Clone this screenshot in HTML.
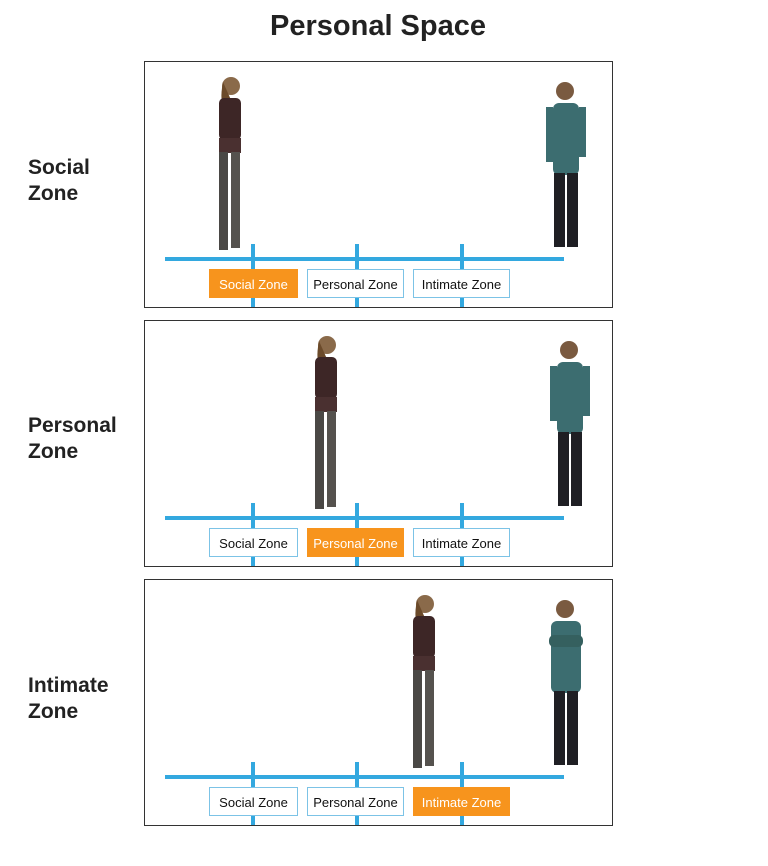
<!DOCTYPE html><html><head><style>
body{margin:0;width:768px;height:866px;background:#fff;font-family:"Liberation Sans",sans-serif;position:relative;overflow:hidden}
.t{position:absolute;left:0;width:756px;top:10px;text-align:center;font-size:29px;font-weight:bold;color:#222}
.lab{position:absolute;left:28px;font-size:21px;font-weight:bold;color:#222;line-height:26px}
.p{position:absolute;left:144px;width:467px;height:245px;border:1px solid #333;box-sizing:content-box}
.ln{position:absolute;left:20px;width:399px;top:195px;height:4px;background:#33a8df}
.tk{position:absolute;width:4px;top:182px;bottom:0;background:#33a8df}
.b{position:absolute;top:207px;height:29px;border:1px solid #7cc3e6;background:#fff;font-size:13px;color:#111;text-align:center;line-height:29px;box-sizing:border-box}
.o{background:#f7941d;border-color:#f7941d;color:#fff}
svg{position:absolute;top:0;left:0}
</style></head><body>
<div class="t">Personal Space</div>
<div class="lab" style="top:155px">Social<br>Zone</div>
<div class="lab" style="top:413px">Personal<br>Zone</div>
<div class="lab" style="top:673px">Intimate<br>Zone</div>

<div class="p" style="top:61px">
<svg width="467" height="245">
<g transform="translate(86,12)"><circle cx="0" cy="12" r="9" fill="#8a6a4a"/><path d="M-8 8 q-4 20 2 28 l6 -10z" fill="#6b4a2a"/><rect x="-12" y="24" width="22" height="42" rx="5" fill="#3d2626"/><rect x="-12" y="64" width="22" height="15" fill="#4a3030"/><rect x="-12" y="78" width="9" height="98" fill="#4a4845"/><rect x="0" y="78" width="9" height="96" fill="#55524e"/></g>
<g transform="translate(420,17)"><circle cx="0" cy="12" r="9" fill="#7a5a40"/><rect x="-12" y="24" width="26" height="72" rx="6" fill="#3c6d70"/><rect x="-19" y="28" width="7" height="55" fill="#3c6d70"/><rect x="14" y="28" width="7" height="50" fill="#3c6d70"/><rect x="-11" y="94" width="11" height="74" fill="#1f1f24"/><rect x="2" y="94" width="11" height="74" fill="#1f1f24"/></g>
</svg>
<div class="ln"></div><div class="tk" style="left:106px"></div><div class="tk" style="left:210px"></div><div class="tk" style="left:315px"></div>
<div class="b o" style="left:64px;width:89px">Social Zone</div><div class="b" style="left:162px;width:97px">Personal Zone</div><div class="b" style="left:268px;width:97px">Intimate Zone</div>
</div>

<div class="p" style="top:320px">
<svg width="467" height="245">
<g transform="translate(182,12)"><circle cx="0" cy="12" r="9" fill="#8a6a4a"/><path d="M-8 8 q-4 20 2 28 l6 -10z" fill="#6b4a2a"/><rect x="-12" y="24" width="22" height="42" rx="5" fill="#3d2626"/><rect x="-12" y="64" width="22" height="15" fill="#4a3030"/><rect x="-12" y="78" width="9" height="98" fill="#4a4845"/><rect x="0" y="78" width="9" height="96" fill="#55524e"/></g>
<g transform="translate(424,17)"><circle cx="0" cy="12" r="9" fill="#7a5a40"/><rect x="-12" y="24" width="26" height="72" rx="6" fill="#3c6d70"/><rect x="-19" y="28" width="7" height="55" fill="#3c6d70"/><rect x="14" y="28" width="7" height="50" fill="#3c6d70"/><rect x="-11" y="94" width="11" height="74" fill="#1f1f24"/><rect x="2" y="94" width="11" height="74" fill="#1f1f24"/></g>
</svg>
<div class="ln"></div><div class="tk" style="left:106px"></div><div class="tk" style="left:210px"></div><div class="tk" style="left:315px"></div>
<div class="b" style="left:64px;width:89px">Social Zone</div><div class="b o" style="left:162px;width:97px">Personal Zone</div><div class="b" style="left:268px;width:97px">Intimate Zone</div>
</div>

<div class="p" style="top:579px">
<svg width="467" height="245">
<g transform="translate(280,12)"><circle cx="0" cy="12" r="9" fill="#8a6a4a"/><path d="M-8 8 q-4 20 2 28 l6 -10z" fill="#6b4a2a"/><rect x="-12" y="24" width="22" height="42" rx="5" fill="#3d2626"/><rect x="-12" y="64" width="22" height="15" fill="#4a3030"/><rect x="-12" y="78" width="9" height="98" fill="#4a4845"/><rect x="0" y="78" width="9" height="96" fill="#55524e"/></g>
<g transform="translate(420,17)"><circle cx="0" cy="12" r="9" fill="#7a5a40"/><rect x="-14" y="24" width="30" height="72" rx="6" fill="#3c6d70"/><rect x="-16" y="38" width="34" height="12" rx="5" fill="#35605f"/><rect x="-11" y="94" width="11" height="74" fill="#1f1f24"/><rect x="2" y="94" width="11" height="74" fill="#1f1f24"/></g>
</svg>
<div class="ln"></div><div class="tk" style="left:106px"></div><div class="tk" style="left:210px"></div><div class="tk" style="left:315px"></div>
<div class="b" style="left:64px;width:89px">Social Zone</div><div class="b" style="left:162px;width:97px">Personal Zone</div><div class="b o" style="left:268px;width:97px">Intimate Zone</div>
</div>
</body></html>
